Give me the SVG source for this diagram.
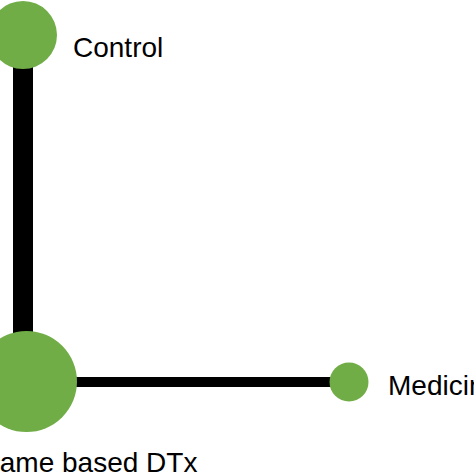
<svg xmlns="http://www.w3.org/2000/svg" width="474" height="474" viewBox="0 0 474 474">
  <style>
    .node { fill: #70ad47; }
    .edge { stroke: #000000; stroke-linecap: butt; fill: none; }
    .label { font-family: "Liberation Sans", Arial, sans-serif; font-size: 28px; fill: #000000; }
  </style>
  <rect width="474" height="474" fill="#ffffff"/>
  <g id="connectors">
    <line class="edge" x1="23" y1="35" x2="23" y2="382" stroke-width="20"/>
    <line class="edge" x1="27" y1="382" x2="349" y2="382" stroke-width="10"/>
  </g>
  <g id="node-control">
    <circle class="node" cx="23" cy="35" r="34"/>
    <text class="label" x="73" y="57">Control</text>
  </g>
  <g id="node-game">
    <circle class="node" cx="26.5" cy="381.5" r="50.5"/>
    <text class="label" x="-22" y="472">Game based DTx</text>
  </g>
  <g id="node-medicine">
    <circle class="node" cx="349" cy="382" r="19.5"/>
    <text class="label" x="388" y="395">Medicine</text>
  </g>
</svg>
